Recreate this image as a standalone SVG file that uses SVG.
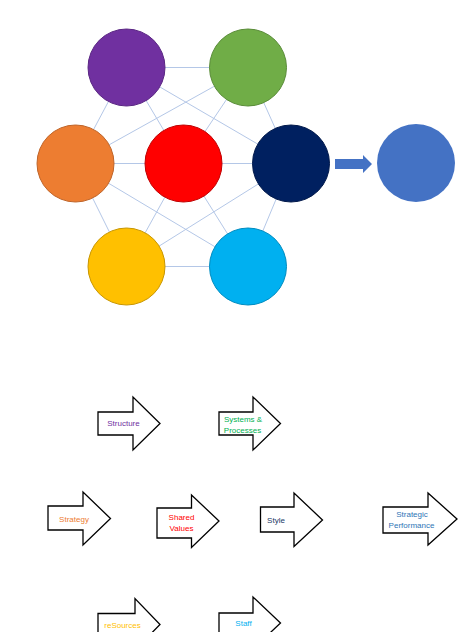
<svg xmlns="http://www.w3.org/2000/svg" width="474" height="632" viewBox="0 0 474 632">
<style>
.c{stroke-width:1}
.ln{stroke:#b4c7e7;stroke-width:1;fill:none}
.ba{fill:#fff;stroke:#000;stroke-width:1.3;stroke-linejoin:miter}
text{font-family:"Liberation Sans",Arial,sans-serif;font-size:8px;text-anchor:middle}
</style>
<rect width="474" height="632" fill="#fff"/>
<g id="connectors">
<line class="ln" x1="126.5" y1="67.5" x2="248" y2="67.5"/>
<line class="ln" x1="75.5" y1="163.5" x2="291" y2="163.5"/>
<line class="ln" x1="126.5" y1="266.5" x2="248" y2="266.5"/>
<line class="ln" x1="126.5" y1="67.5" x2="75.5" y2="163.5"/>
<line class="ln" x1="126.5" y1="67.5" x2="183.5" y2="163.5"/>
<line class="ln" x1="126.5" y1="67.5" x2="291" y2="163.5"/>
<line class="ln" x1="248" y1="67.5" x2="75.5" y2="163.5"/>
<line class="ln" x1="248" y1="67.5" x2="183.5" y2="163.5"/>
<line class="ln" x1="248" y1="67.5" x2="291" y2="163.5"/>
<line class="ln" x1="75.5" y1="163.5" x2="126.5" y2="266.5"/>
<line class="ln" x1="75.5" y1="163.5" x2="248" y2="266.5"/>
<line class="ln" x1="183.5" y1="163.5" x2="126.5" y2="266.5"/>
<line class="ln" x1="183.5" y1="163.5" x2="248" y2="266.5"/>
<line class="ln" x1="291" y1="163.5" x2="126.5" y2="266.5"/>
<line class="ln" x1="291" y1="163.5" x2="248" y2="266.5"/>
<polygon id="flow-arrow" points="335,159 363,159 363,155 372,164 363,173 363,169 335,169" fill="#4472c4"/>
</g>
<g id="n-structure"><circle cx="126.5" cy="67.5" r="38.5" fill="#7030a0" stroke="#5a2683" class="c"/></g>
<g id="n-systems"><circle cx="248" cy="67.5" r="38.5" fill="#70ad47" stroke="#5a8c39" class="c"/></g>
<g id="n-strategy"><circle cx="75.5" cy="163.5" r="38.5" fill="#ed7d31" stroke="#bf6428" class="c"/></g>
<g id="n-shared"><circle cx="183.5" cy="163.5" r="38.5" fill="#ff0000" stroke="#c00000" class="c"/></g>
<g id="n-style"><circle cx="291" cy="163.5" r="38.5" fill="#002060" stroke="#00184a" class="c"/></g>
<g id="n-resources"><circle cx="126.5" cy="266.5" r="38.5" fill="#ffc000" stroke="#c89600" class="c"/></g>
<g id="n-staff"><circle cx="248" cy="266.5" r="38.5" fill="#00b0f0" stroke="#008cc0" class="c"/></g>
<g id="n-performance"><circle cx="416" cy="163" r="39" fill="#4472c4"/></g>

<g id="a-structure"><polygon class="ba" points="98,412 133,412 133,397 160,423.5 133,450 133,435 98,435"/><text x="123.5" y="426" fill="#7030a0">Structure</text></g>
<g id="a-systems"><polygon class="ba" points="219,412 253,412 253,397 280.5,423.5 253,450 253,435 219,435"/><text x="243" y="422" fill="#00b050">Systems &amp;</text><text x="242.5" y="432.5" fill="#00b050">Processes</text></g>
<g id="a-strategy"><polygon class="ba" points="48,506 83,506 83,492 110.5,518.5 83,545 83,530 48,530"/><text x="74" y="522" fill="#ed7d31">Strategy</text></g>
<g id="a-shared"><polygon class="ba" points="157,508 191.5,508 191.5,495 219,521 191.5,547.5 191.5,538 157,538"/><text x="181.5" y="519.5" fill="#ff0000">Shared</text><text x="181.5" y="530.5" fill="#ff0000">Values</text></g>
<g id="a-style"><polygon class="ba" points="260.5,507 294,507 294,493 322.5,520 294,546.5 294,532 260.5,532"/><text x="276" y="523" fill="#203864">Style</text></g>
<g id="a-performance"><polygon class="ba" points="383,507 428,507 428,493 457,519 428,545 428,533 383,533"/><text x="412" y="517" fill="#2e75b6">Strategic</text><text x="411.5" y="528" fill="#2e75b6" font-size="8.5">Performance</text></g>
<g id="a-resources"><polygon class="ba" points="98,613.5 135,613.5 135,598.5 160,624.5 135,650 135,636 98,636"/><text x="122.5" y="628" fill="#ffc000">reSources</text></g>
<g id="a-staff"><polygon class="ba" points="219,613 253,613 253,597 280.5,623 253,649 253,636 219,636"/><text x="243.5" y="626" fill="#00b0f0">Staff</text></g>
</svg>
